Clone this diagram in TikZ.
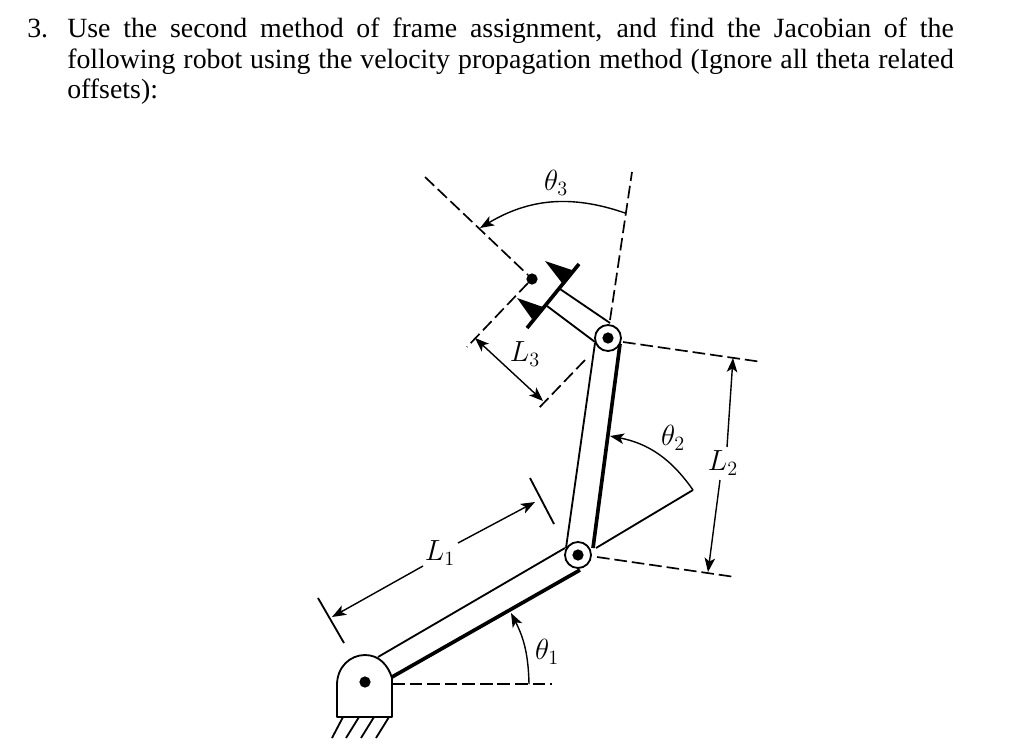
\documentclass[tikz,border=0pt]{standalone}
\usepackage{fontspec}
\setmainfont{Liberation Serif}
\usetikzlibrary{arrows.meta}

\begin{document}
\begin{tikzpicture}
[x=0.025cm,y=-0.025cm,
  jointDecorate/.style={shape=circle,inner sep=0pt,minimum size=18.5pt,draw,line width=1.3pt,fill=white},%
  dotDecorate/.style={shape=circle,inner sep=0pt,minimum size=8pt,fill=black},%
  lineDecorate/.style={-,line width=1.3pt},%
  thickDecorate/.style={-,line width=2.6pt},%
  dashDecorate/.style={-,line width=1.2pt,dash pattern=on 9pt off 3.5pt},%
  dimDecorate/.style={line width=1pt,-{Stealth[length=10pt,width=7.5pt,inset=2.5pt]}},%
  bothDecorate/.style={line width=1pt,{Stealth[length=10pt,width=7.5pt,inset=2.5pt]}-{Stealth[length=10pt,width=7.5pt,inset=2.5pt]}},%
  textDecorate/.style={anchor=base west,inner sep=0pt,font=\fontsize{19.8}{21}\selectfont},%
  labelDecorate/.style={inner sep=0pt,font=\huge}]
\useasboundingbox (0,0) rectangle (1024,752);
%% problem text
\node (num) at (27,37) [textDecorate] {3.};
\node (line1) at (67,37) [textDecorate] {\hbox to 630.5pt{Use the second method of frame assignment, and find the Jacobian of the}};
\node (line2) at (67,68) [textDecorate] {\hbox to 630.5pt{following robot using the velocity propagation method (Ignore all theta related}};
\node (line3) at (67,98) [textDecorate] {offsets):};
%% free ends of lines
\foreach \nodename/\x/\y in {
  a1/378/657, a2/565/548, b1/392/677, b2/580/570,
  c1/595/343, c2/566/548, d1/620/344, d2/593/548,
  e1/610/323, e2/560/289, f1/595/342, f2/547/306,
  p1/579/264, p2/527/328,
  g1/425/177, g2/528/275, h1/610/320, h2/632/172,
  i1/528/283, i2/467/347, j1/585/360, j2/537/410,
  k1/475/338, k2/543/401,
  m1/623/342, m2/762/362, n1/597/557, n2/735/577,
  o1/733/358, o2/727/447, o3/720/480, o4/708/572,
  q1/596/548, q2/693/490, q3/610/436,
  r1/318/598, r2/344/643, s1/332/617, s2/423/566,
  s3/458/543, s4/535/502, t1/530/478, t2/554/524,
  u1/392/684, u2/552/684, u3/529/684, u4/511/613,
  v1/625/213, v2/480/228}
{
  \coordinate (\nodename) at (\x,\y);
}
%% base
\draw [lineDecorate,line join=round] (337,717) -- (337,685)
  .. controls (337,667) and (350,655) .. (365,655)
  .. controls (379,655) and (388,665) .. (392,678) -- (392,717) -- cycle;
\foreach \xa/\xb in {343/332, 359/346, 374/361, 389/376}
{
  \draw [lineDecorate] (\xa,717) -- (\xb,738);
}
%% links
\path
\foreach \startnode/\endnode in {
  a1/a2, c1/c2, e1/e2, f1/f2, r1/r2, t1/t2, q1/q2}
{
  (\startnode) edge[lineDecorate] (\endnode)
};
\path
\foreach \startnode/\endnode in {
  b1/b2, d1/d2, p1/p2}
{
  (\startnode) edge[thickDecorate] (\endnode)
};
%% gripper
\fill (545,261) -- (572,270) -- (562,283) -- cycle;
\fill (517,298) -- (543,307) -- (532,319) -- cycle;
%% dashed lines
\path
\foreach \startnode/\endnode in {
  g1/g2, h1/h2, i1/i2, j1/j2, m1/m2, n1/n2, u1/u2}
{
  (\startnode) edge[dashDecorate] (\endnode)
};
%% dimensions and angles
\draw [bothDecorate] (k1) -- (k2);
\draw [dimDecorate] (o2) -- (o1);
\draw [dimDecorate] (o3) -- (o4);
\draw [dimDecorate] (s2) -- (s1);
\draw [dimDecorate] (s3) -- (s4);
\draw [dimDecorate] (u3) to[bend right=13] (u4);
\draw [dimDecorate] (q2) to[bend right=22] (q3);
\draw [dimDecorate] (v1) to[bend right=25] (v2);
%% joints
\node (joint2) at (578,555) [jointDecorate] {};
\node (joint3) at (608,338) [jointDecorate] {};
\node (dot1) at (365,682) [dotDecorate] {};
\node (dot2) at (578,555) [dotDecorate] {};
\node (dot3) at (608,338) [dotDecorate] {};
\node (dot4) at (532,279) [dotDecorate] {};
%% labels
\node (theta1) at (547,652) [labelDecorate] {$\theta_1$};
\node (theta2) at (673,438) [labelDecorate] {$\theta_2$};
\node (theta3) at (556,183) [labelDecorate] {$\theta_3$};
\node (len1) at (440,553) [labelDecorate] {$L_1$};
\node (len2) at (723,463) [labelDecorate] {$L_2$};
\node (len3) at (525,354) [labelDecorate] {$L_3$};
\end{tikzpicture}
\end{document}
